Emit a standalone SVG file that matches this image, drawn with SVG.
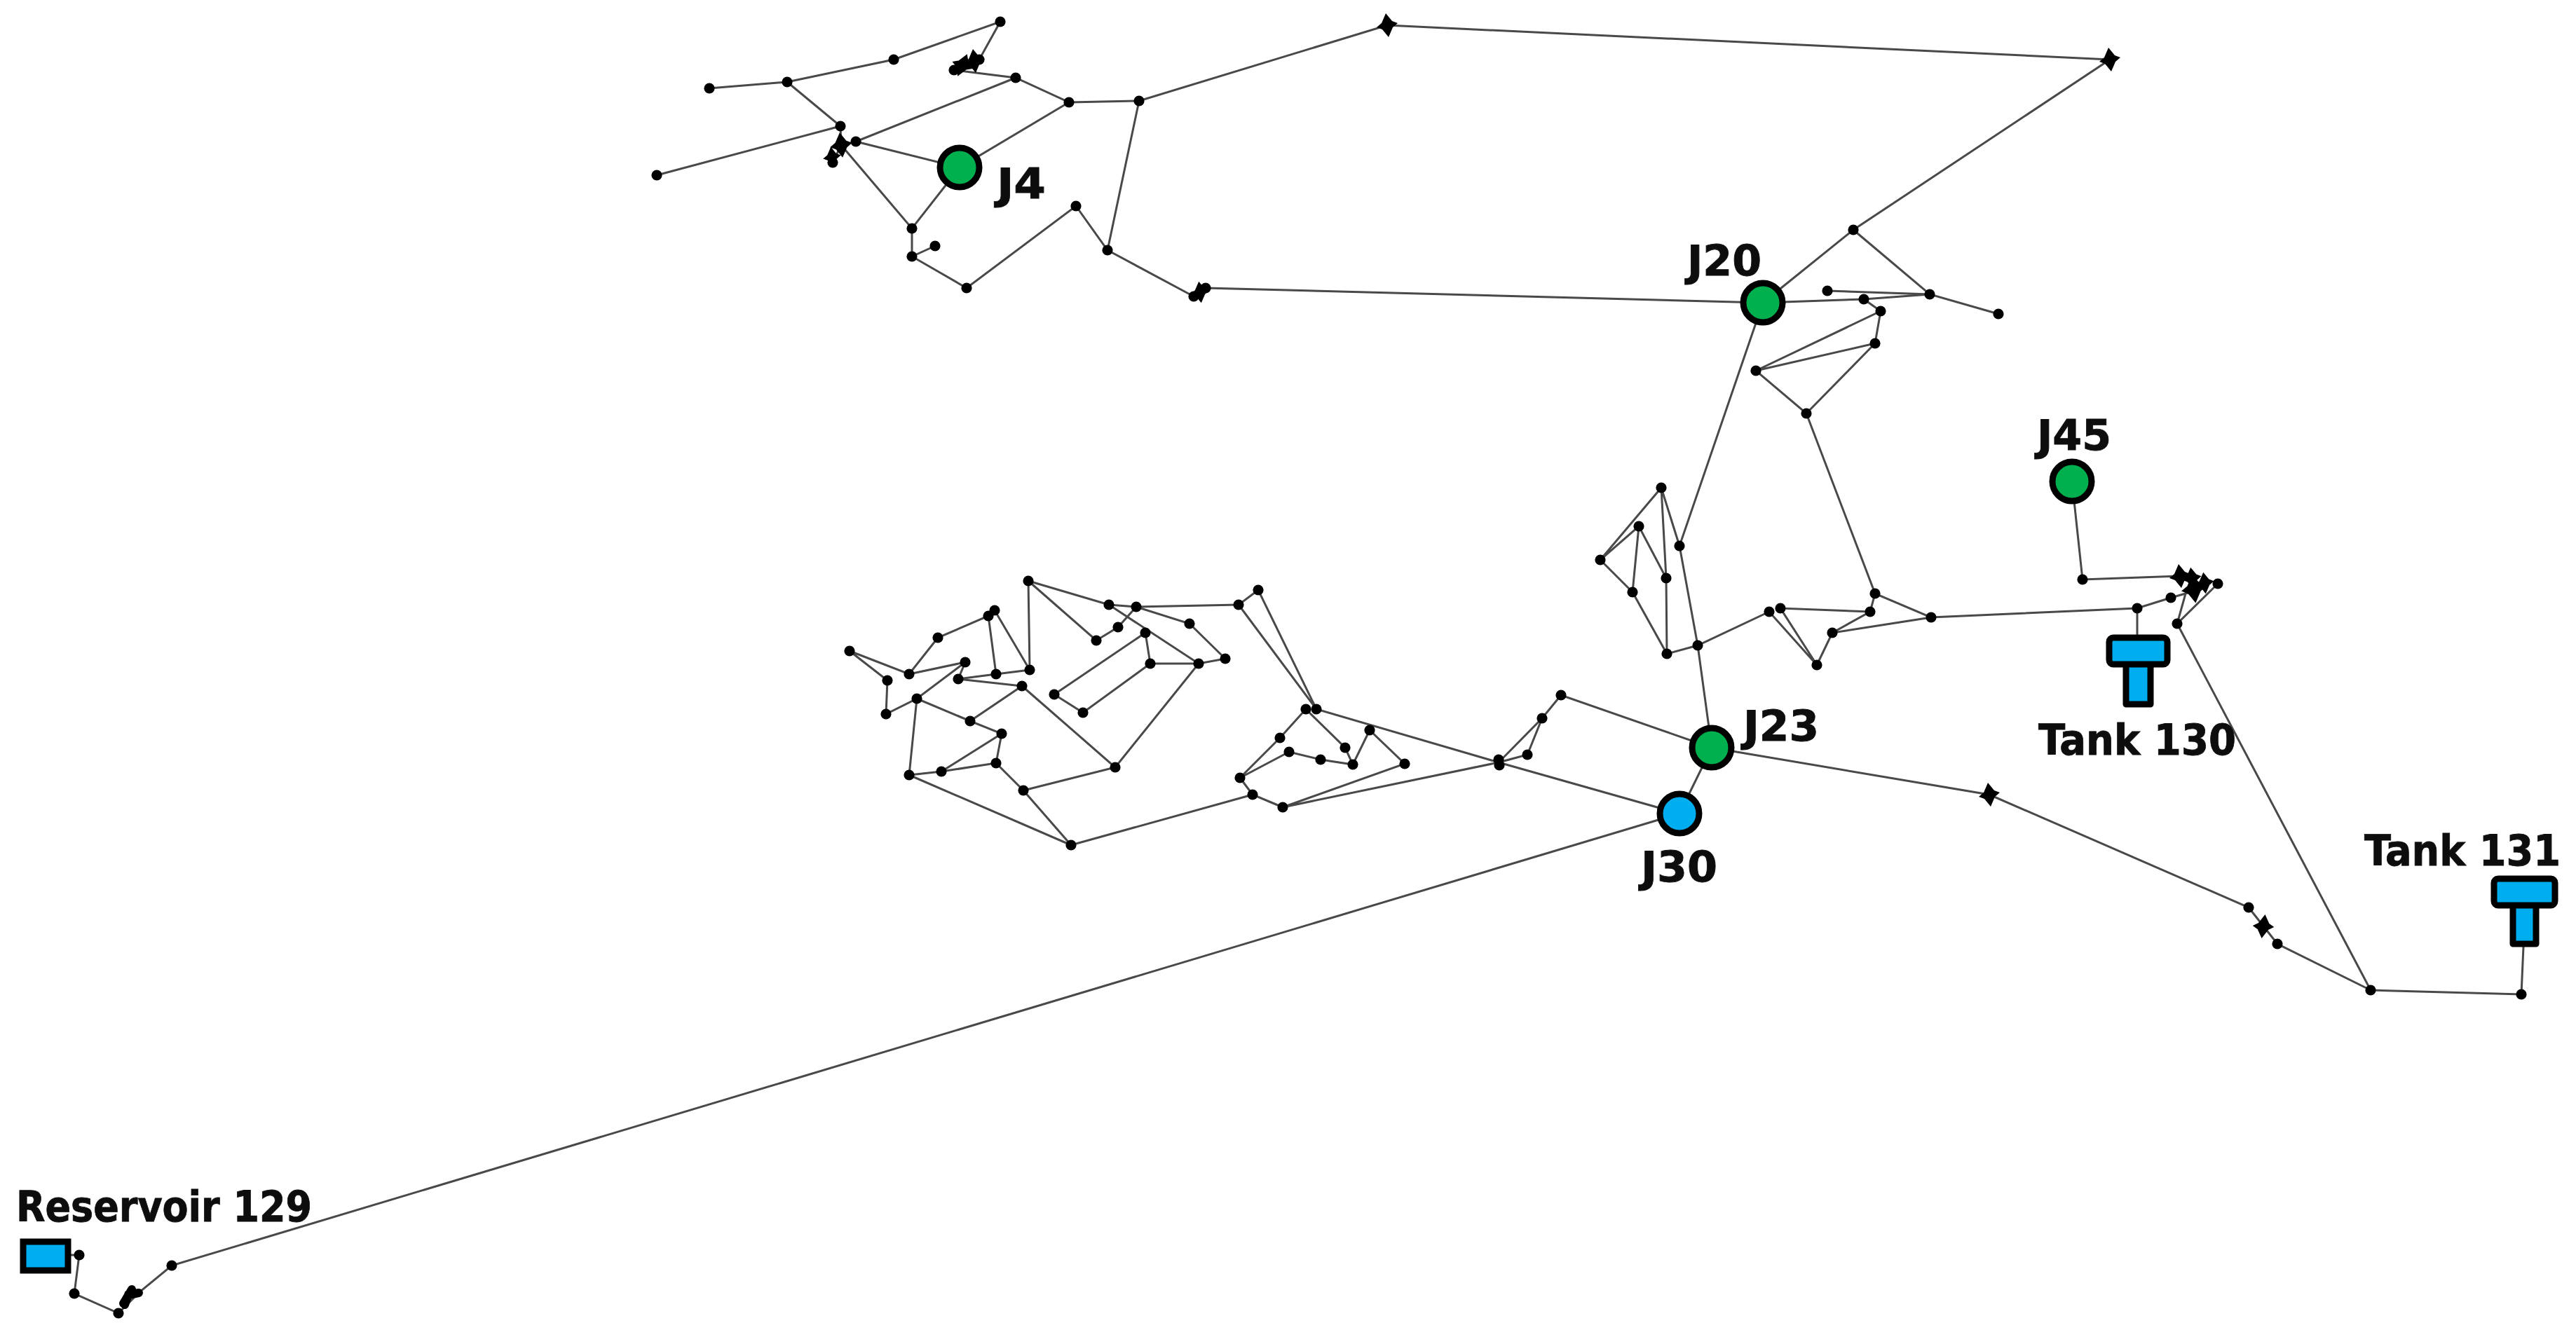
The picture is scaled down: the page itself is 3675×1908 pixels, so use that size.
<svg xmlns="http://www.w3.org/2000/svg" xmlns:xlink="http://www.w3.org/1999/xlink" width="3675" height="1908" viewBox="0 0 3675 1908">
<style>
.c{stroke:#484848;stroke-width:3;fill:none;stroke-linecap:round}
.n{fill:#000}
.v{fill:#000}
.g{fill:#00b04f;stroke:#000;stroke-width:9}
.b{fill:#00aeef;stroke:#000;stroke-width:9}
.tk{fill:#00aeef;stroke:#000;stroke-width:9;stroke-linejoin:round}
.t{font-family:"DejaVu Sans Condensed","DejaVu Sans",sans-serif;font-stretch:condensed;font-weight:bold;font-size:60px;fill:#0a0a0a;stroke:#0a0a0a;stroke-width:.8}
</style>
<defs>
<filter id="soft" filterUnits="userSpaceOnUse" x="0" y="0" width="3675" height="1908"><feGaussianBlur stdDeviation="0.7"/></filter>
<path id="valve" d="M-2,-17 L7,-6 L15,-3 L8,3 L2,17 L-7,6 L-15,3 L-8,-3Z"/>
<circle id="dot" r="7.6"/>
</defs>
<rect width="3675" height="1908" fill="#fff"/>
<g id="diagram" filter="url(#soft)">
<g id="connectors" class="c">
<path d="M937,250L1199,180M1012,126L1123,117L1275,85L1427,31L1397,85M1123,117L1199,180L1200,207L1188,232M1221,202L1449,111M1221,202L1369,239M1200,207L1301,326L1369,239L1525,146L1449,111L1361,100M1525,146L1625,144L1979,36L3010,85L2644,328L2515,432M1625,144L1580,357L1535,294L1379,411L1301,366L1301,326M1301,366L1334,351M1580,357L1703,423M1720,411L2515,432"/>
<path d="M2644,328L2753,420L2851,448M2607,415L2753,420L2659,427L2515,432M2659,427L2683,444L2675,490L2505,529L2683,444M2505,529L2577,590L2675,490M2577,590L2675,847M2515,432L2396,779L2422,921L2442,1067"/>
<path d="M2370,696L2283,799L2338,751L2329,845L2283,799M2370,696L2396,779M2370,696L2377,825L2338,751M2329,845L2378,933L2377,825M2378,933L2422,921L2524,873L2592,949L2540,868L2668,873L2675,847L2755,881L2614,903L2592,949M2668,873L2614,903M2755,881L3049,868L3097,853L3125,845M3049,868L3049,905M2956,687L2971,827L3110,822M3120,840L3106,890L3164,833M3106,890L3382,1413L3597,1419L3600,1351"/>
<path d="M2442,1067L2838,1134L3208,1295L3249,1347L3382,1413M2442,1067L2396,1161L245,1806L200,1843L169,1874L106,1846L113,1791L101,1791M2396,1161L2138,1088L1878,1012L1767,863L1795,842L1878,1012M2442,1067L2227,992L2200,1025L2138,1088L2179,1077L2200,1025"/>
<path d="M1212,929L1297,962L1338,910L1410,879L1419,871L1469,956L1421,962L1367,969L1377,945L1308,997L1264,1019L1266,971L1212,929M1297,962L1377,945M1410,879L1421,962M1467,829L1469,956M1367,969L1458,979L1384,1029L1308,997L1297,1106L1343,1101L1421,1089L1429,1047L1384,1029M1429,1047L1343,1101M1297,1106L1528,1206L1460,1128L1421,1089M1460,1128L1591,1095L1458,979M1467,829L1582,863L1621,866L1767,863M1467,829L1564,914L1595,895L1621,866L1697,890L1748,940L1710,947L1582,863M1504,991L1634,903L1641,947L1710,947L1591,1095M1504,991L1545,1017L1641,947"/>
<path d="M1863,1012L1826,1053L1769,1110L1839,1073L1884,1084L1930,1091L1919,1067L1863,1012M1930,1091L1954,1042L2004,1090L1830,1152L2138,1088M1769,1110L1787,1134L1830,1152M1787,1134L1528,1206"/>
</g>
<g id="valves" class="v">
<use href="#valve" transform="translate(1979,36)"/>
<use href="#valve" transform="translate(3010,85)"/>
<use href="#valve" transform="translate(2838,1134)"/>
<use href="#valve" transform="translate(3229,1322) rotate(15)"/>
<use href="#valve" transform="translate(1373,93) rotate(30)"/>
<use href="#valve" transform="translate(1390,87)"/>
<use href="#valve" transform="translate(1200,207) scale(1.05)"/>
<use href="#valve" transform="translate(1187,224) scale(.85)"/>
<use href="#valve" transform="translate(1712,417) scale(.9)"/>
<use href="#valve" transform="translate(3110,822)"/>
<use href="#valve" transform="translate(3127,825) scale(.9)"/>
<use href="#valve" transform="translate(3130,840) scale(1.2)"/>
<use href="#valve" transform="translate(3145,832) scale(.9)"/>
</g>
<path id="reservoir-valves" d="M198,1845L183,1848L178,1862M188,1840L176,1860" fill="none" stroke="#000" stroke-width="12" stroke-linecap="round"/>
<g id="junctions" class="n">
<use id="n1" href="#dot" x="937" y="250"/><use id="n2" href="#dot" x="1012" y="126"/><use id="n3" href="#dot" x="1123" y="117"/><use id="n4" href="#dot" x="1275" y="85"/><use id="n5" href="#dot" x="1427" y="31"/><use id="n6" href="#dot" x="1397" y="85"/><use id="n7" href="#dot" x="1361" y="100"/><use id="n8" href="#dot" x="1449" y="111"/><use id="n9" href="#dot" x="1199" y="180"/><use id="n10" href="#dot" x="1221" y="202"/><use id="n11" href="#dot" x="1188" y="232"/><use id="n12" href="#dot" x="1301" y="326"/><use id="n13" href="#dot" x="1301" y="366"/><use id="n14" href="#dot" x="1334" y="351"/><use id="n15" href="#dot" x="1379" y="411"/><use id="n16" href="#dot" x="1535" y="294"/><use id="n17" href="#dot" x="1580" y="357"/><use id="n18" href="#dot" x="1525" y="146"/><use id="n19" href="#dot" x="1625" y="144"/><use id="n20" href="#dot" x="1703" y="423"/><use id="n21" href="#dot" x="1720" y="411"/>
<use id="n22" href="#dot" x="2644" y="328"/><use id="n23" href="#dot" x="2607" y="415"/><use id="n24" href="#dot" x="2659" y="427"/><use id="n25" href="#dot" x="2753" y="420"/><use id="n26" href="#dot" x="2851" y="448"/><use id="n27" href="#dot" x="2683" y="444"/><use id="n28" href="#dot" x="2675" y="490"/><use id="n29" href="#dot" x="2505" y="529"/><use id="n30" href="#dot" x="2577" y="590"/>
<use id="n31" href="#dot" x="2370" y="696"/><use id="n32" href="#dot" x="2338" y="751"/><use id="n33" href="#dot" x="2396" y="779"/><use id="n34" href="#dot" x="2283" y="799"/><use id="n35" href="#dot" x="2377" y="825"/><use id="n36" href="#dot" x="2329" y="845"/><use id="n37" href="#dot" x="2378" y="933"/><use id="n38" href="#dot" x="2422" y="921"/><use id="n39" href="#dot" x="2524" y="873"/><use id="n40" href="#dot" x="2540" y="868"/><use id="n41" href="#dot" x="2668" y="873"/><use id="n42" href="#dot" x="2675" y="847"/><use id="n43" href="#dot" x="2614" y="903"/><use id="n44" href="#dot" x="2592" y="949"/><use id="n45" href="#dot" x="2755" y="881"/>
<use id="n46" href="#dot" x="2971" y="827"/><use id="n47" href="#dot" x="3049" y="868"/><use id="n48" href="#dot" x="3097" y="853"/><use id="n49" href="#dot" x="3106" y="890"/><use id="n50" href="#dot" x="3164" y="833"/><use id="n51" href="#dot" x="3208" y="1295"/><use id="n52" href="#dot" x="3249" y="1347"/><use id="n53" href="#dot" x="3382" y="1413"/><use id="n54" href="#dot" x="3597" y="1419"/>
<use id="n55" href="#dot" x="1212" y="929"/><use id="n56" href="#dot" x="1266" y="971"/><use id="n57" href="#dot" x="1264" y="1019"/><use id="n58" href="#dot" x="1297" y="962"/><use id="n59" href="#dot" x="1338" y="910"/><use id="n60" href="#dot" x="1410" y="879"/><use id="n61" href="#dot" x="1419" y="871"/><use id="n62" href="#dot" x="1377" y="945"/><use id="n63" href="#dot" x="1367" y="969"/><use id="n64" href="#dot" x="1421" y="962"/><use id="n65" href="#dot" x="1469" y="956"/><use id="n66" href="#dot" x="1458" y="979"/><use id="n67" href="#dot" x="1308" y="997"/><use id="n68" href="#dot" x="1384" y="1029"/><use id="n69" href="#dot" x="1429" y="1047"/><use id="n70" href="#dot" x="1421" y="1089"/><use id="n71" href="#dot" x="1343" y="1101"/><use id="n72" href="#dot" x="1297" y="1106"/><use id="n73" href="#dot" x="1467" y="829"/><use id="n74" href="#dot" x="1582" y="863"/><use id="n75" href="#dot" x="1621" y="866"/><use id="n76" href="#dot" x="1595" y="895"/><use id="n77" href="#dot" x="1564" y="914"/><use id="n78" href="#dot" x="1634" y="903"/><use id="n79" href="#dot" x="1641" y="947"/><use id="n80" href="#dot" x="1504" y="991"/><use id="n81" href="#dot" x="1545" y="1017"/><use id="n82" href="#dot" x="1591" y="1095"/><use id="n83" href="#dot" x="1460" y="1128"/><use id="n84" href="#dot" x="1697" y="890"/><use id="n85" href="#dot" x="1748" y="940"/><use id="n86" href="#dot" x="1710" y="947"/><use id="n87" href="#dot" x="1767" y="863"/><use id="n88" href="#dot" x="1795" y="842"/>
<use id="n89" href="#dot" x="1863" y="1012"/><use id="n90" href="#dot" x="1878" y="1012"/><use id="n91" href="#dot" x="1954" y="1042"/><use id="n92" href="#dot" x="1826" y="1053"/><use id="n93" href="#dot" x="1839" y="1073"/><use id="n94" href="#dot" x="1919" y="1067"/><use id="n95" href="#dot" x="1884" y="1084"/><use id="n96" href="#dot" x="1930" y="1091"/><use id="n97" href="#dot" x="2004" y="1090"/><use id="n98" href="#dot" x="1769" y="1110"/><use id="n99" href="#dot" x="1787" y="1134"/><use id="n100" href="#dot" x="1830" y="1152"/><use id="n101" href="#dot" x="2138" y="1084"/><use id="n102" href="#dot" x="2139" y="1092"/><use id="n103" href="#dot" x="2179" y="1077"/><use id="n104" href="#dot" x="2200" y="1025"/><use id="n105" href="#dot" x="2227" y="992"/><use id="n110" href="#dot" x="1528" y="1206"/>
<use id="n106" href="#dot" x="245" y="1806"/><use id="n107" href="#dot" x="169" y="1874"/><use id="n108" href="#dot" x="106" y="1846"/><use id="n109" href="#dot" x="113" y="1791"/>
</g>
<g id="J4"><circle class="g" cx="1369" cy="239" r="28"/><text class="t" x="1422" y="283" textLength="70" lengthAdjust="spacingAndGlyphs">J4</text></g>
<g id="J20"><circle class="g" cx="2515" cy="432" r="28"/><text class="t" x="2407" y="393" textLength="106" lengthAdjust="spacingAndGlyphs">J20</text></g>
<g id="J45"><circle class="g" cx="2956" cy="687" r="28"/><text class="t" x="2906" y="642" textLength="106" lengthAdjust="spacingAndGlyphs">J45</text></g>
<g id="J23"><circle class="g" cx="2442" cy="1067" r="28"/><text class="t" x="2487" y="1057" textLength="108" lengthAdjust="spacingAndGlyphs">J23</text></g>
<g id="J30"><circle class="b" cx="2396" cy="1161" r="28"/><text class="t" x="2341" y="1258" textLength="109" lengthAdjust="spacingAndGlyphs">J30</text></g>
<g id="Tank130"><rect class="tk" x="3033" y="945" width="35" height="60"/><rect class="tk" x="3009" y="910" width="83" height="38" rx="6"/><text class="t" x="2908" y="1077" textLength="282" lengthAdjust="spacingAndGlyphs">Tank 130</text></g>
<g id="Tank131"><rect class="tk" x="3585" y="1290" width="33" height="57"/><rect class="tk" x="3558" y="1254" width="87" height="38" rx="6"/><text class="t" x="3373" y="1235" textLength="280" lengthAdjust="spacingAndGlyphs">Tank 131</text></g>
<g id="Reservoir129"><rect x="33" y="1772" width="64" height="41" fill="#00aeef" stroke="#000" stroke-width="9"/><text class="t" x="23" y="1743" textLength="422" lengthAdjust="spacingAndGlyphs">Reservoir 129</text></g>
</g>
</svg>
